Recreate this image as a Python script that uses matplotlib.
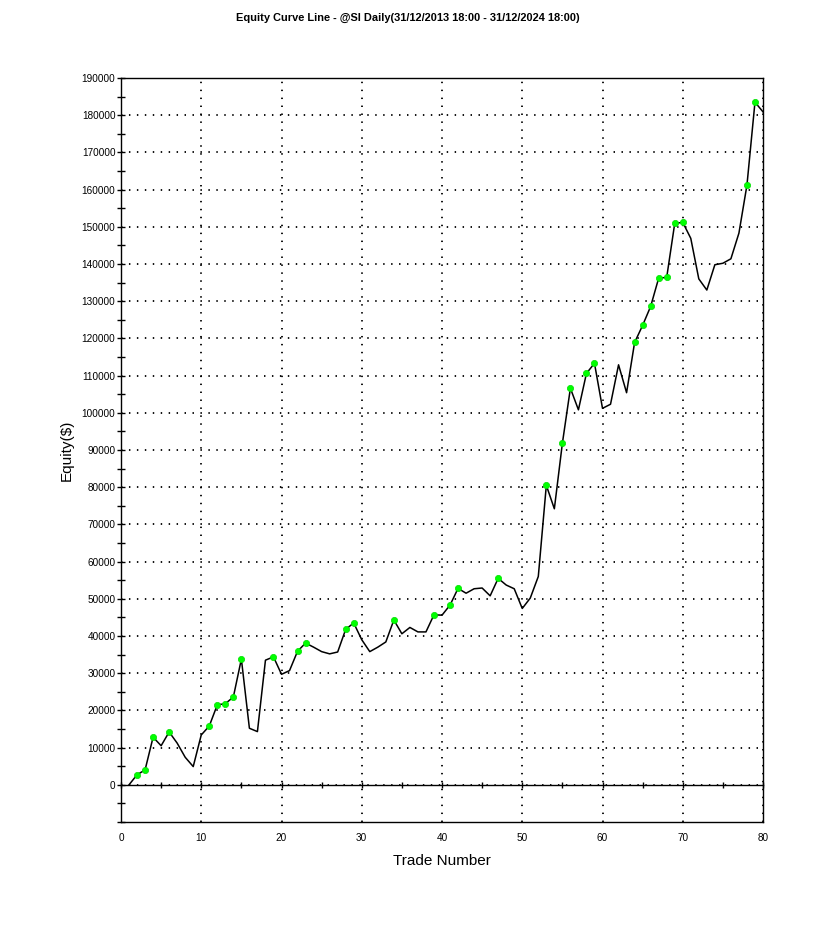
import matplotlib.pyplot as plt
import numpy as np
from matplotlib.ticker import MultipleLocator

plt.rcParams['font.family'] = ['Liberation Sans', 'DejaVu Sans']

# Equity after each trade (trade number 1..80)
trades = np.arange(1, 81)
equity = [
    0, 2700, 4000, 12800, 10500, 14200, 11200, 7400, 4900, 13400,
    15800, 21500, 21800, 23600, 33800, 15200, 14300, 33500, 34400, 29700,
    30700, 35900, 38100, 37000, 35800, 35200, 35700, 41800, 43500, 39000,
    35800, 37000, 38400, 44300, 40600, 42300, 41100, 41100, 45700, 45600,
    48300, 52800, 51500, 52700, 52900, 50800, 55500, 53700, 52700, 47400,
    50200, 56000, 80500, 74200, 91800, 106600, 100800, 110600, 113300, 101200,
    102300, 112900, 105400, 118900, 123500, 128600, 136200, 136400, 150900, 151200,
    146900, 136000, 133000, 139800, 140200, 141400, 148300, 161200, 183500, 180900,
]
# trades that set a new equity high (green dots)
new_highs = [2, 3, 4, 6, 11, 12, 13, 14, 15, 19, 22, 23, 28, 29, 34, 39, 41, 42,
             47, 53, 55, 56, 58, 59, 64, 65, 66, 67, 68, 69, 70, 78, 79]

equity = np.array(equity)
high_vals = equity[np.array(new_highs) - 1]

fig = plt.figure(figsize=(8.16, 9.25), dpi=100)
ax = fig.add_axes([121 / 816, 1 - 822 / 925, (763 - 121) / 816, (822 - 78) / 925])

ax.plot(trades, equity, color='black', lw=1.1)
ax.plot(new_highs, high_vals, 'o', color='#00ff00', ms=4.5, mec='#00dd00', mew=0.5, zorder=3)

ax.set_xlim(0, 80)
ax.set_ylim(-10000, 190000)
ax.xaxis.set_major_locator(MultipleLocator(10))
ax.yaxis.set_minor_locator(MultipleLocator(5000))
ax.set_yticks(np.arange(0, 190001, 10000))
ax.tick_params(axis='x', length=0, pad=8, labelsize=7.2)
ax.tick_params(axis='y', which='both', direction='inout', length=6, width=1, labelsize=7.2, pad=1)

ax.grid(True, color='black', lw=1.3, linestyle=(0, (0.8, 3.6)))

# zero line carrying the trade ticks
zero = ax.secondary_xaxis(0.05)
zero.xaxis.set_major_locator(MultipleLocator(5))
zero.tick_params(direction='inout', length=5, width=1, labelbottom=False)
zero.spines['bottom'].set_linewidth(1)

for s in ax.spines.values():
    s.set_linewidth(1)

ax.set_xlabel('Trade Number', fontsize=11, labelpad=8)
ax.set_ylabel('Equity($)', fontsize=11, labelpad=6)
fig.suptitle('Equity Curve Line - @SI Daily(31/12/2013 18:00 - 31/12/2024 18:00)',
             fontsize=7.9, fontweight='bold', y=1 - 18 / 925, va='center')

fig.savefig('out.png', dpi=100)
